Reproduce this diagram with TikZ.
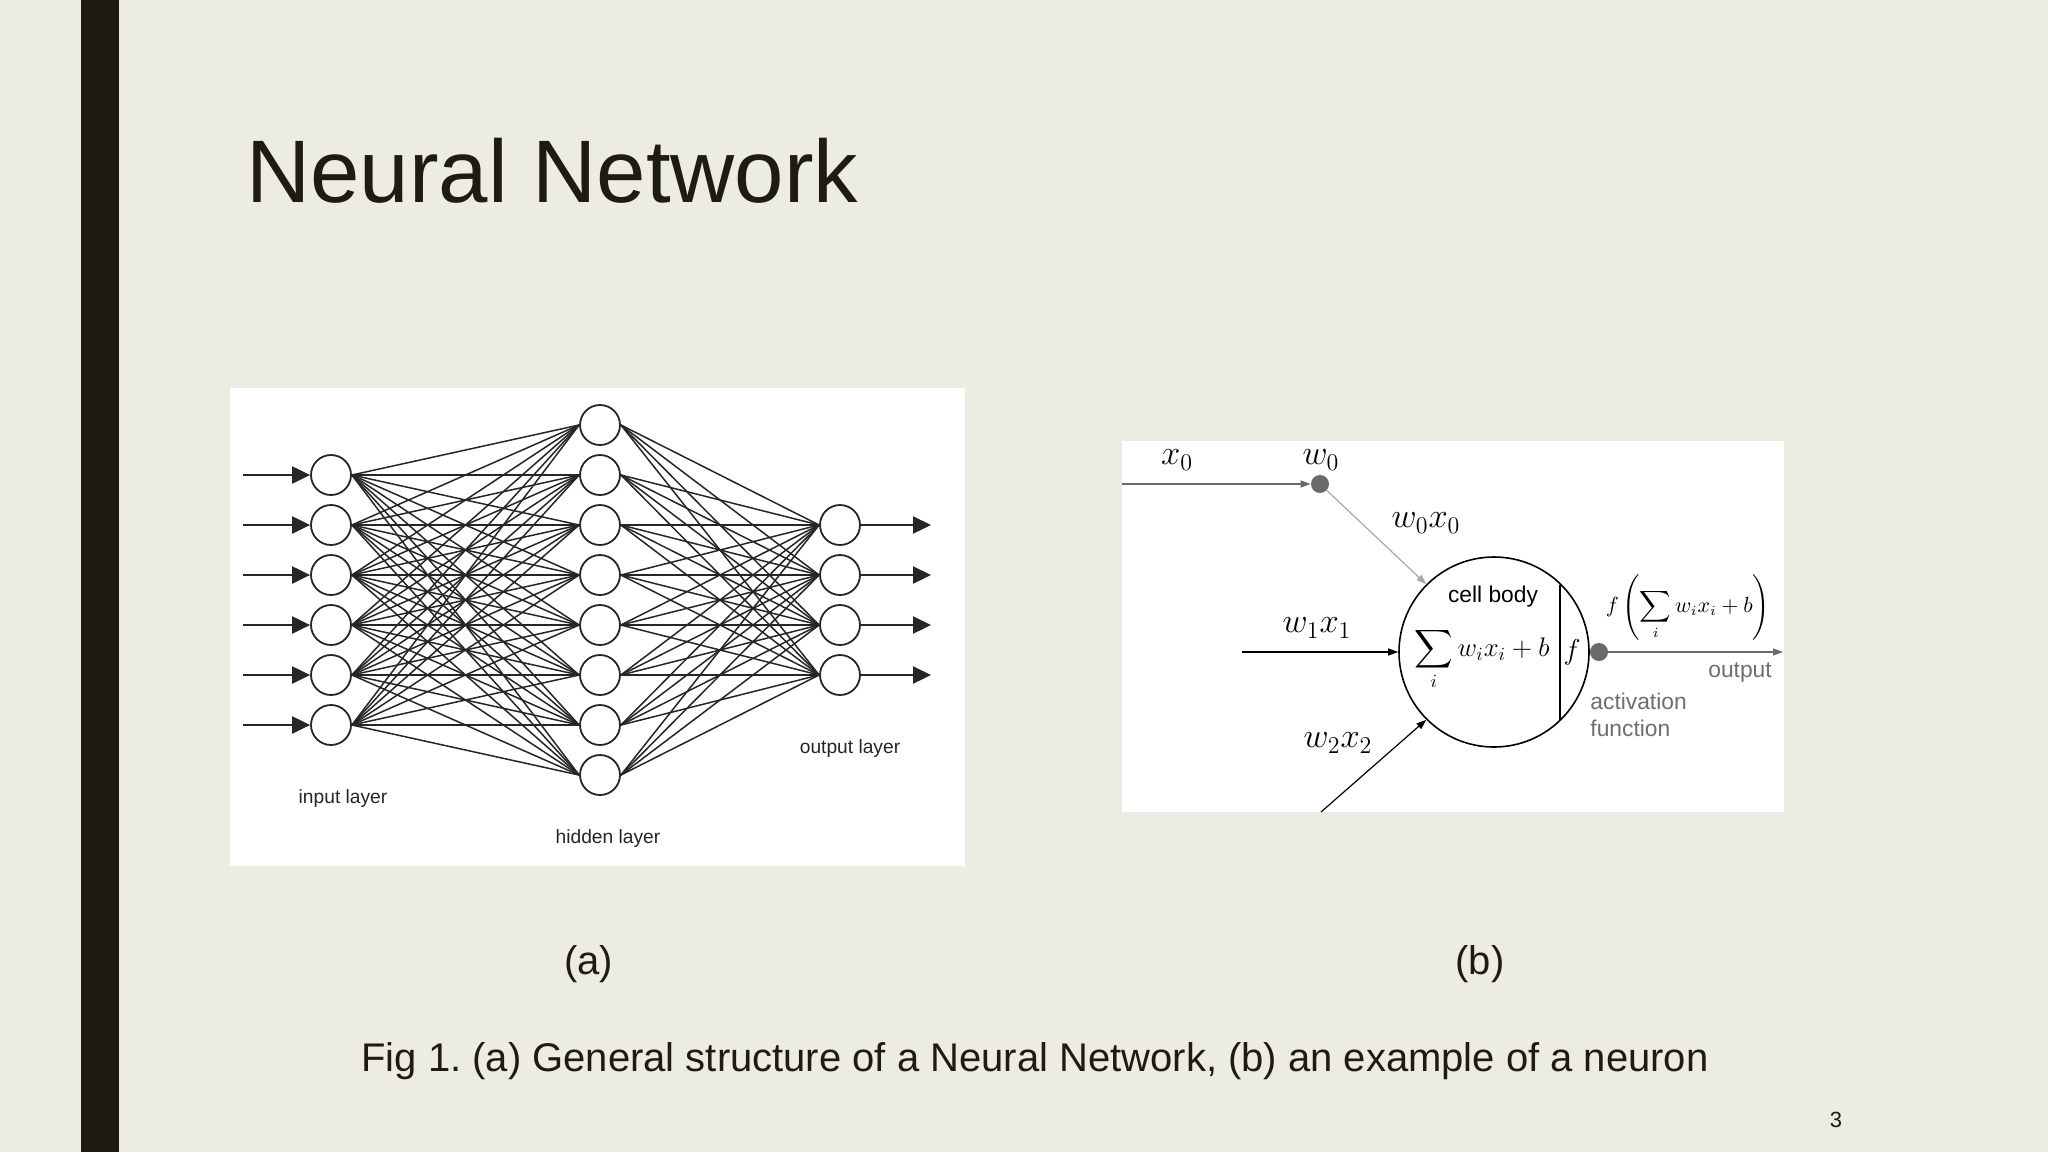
\documentclass[tikz,border=0pt]{standalone}
\usepackage{amsmath}
\usepackage{fontspec}
\setmainfont{Liberation Sans}
\usetikzlibrary{arrows.meta}
\definecolor{bg}{HTML}{EDECE3}
\definecolor{barcol}{HTML}{1E1C12}
\definecolor{ink}{HTML}{1E1C12}
\definecolor{netgray}{HTML}{262626}
\definecolor{dotgray}{HTML}{6A6A6A}
\definecolor{litegray}{HTML}{A8A8A8}
\definecolor{txtgray}{HTML}{6E6E6E}
\frenchspacing
\begin{document}
\begin{tikzpicture}[x=0.5pt,y=-0.5pt,
  neuron/.style={circle,draw=netgray,line width=0.9pt,fill=white,minimum size=20pt,inner sep=0pt},
  edge/.style={draw=netgray,line width=0.75pt},
  inarrow/.style={draw=netgray,line width=1.1pt,-{Triangle[length=9pt,width=8.5pt]}},
  netlbl/.style={font=\fontsize{9.6}{11}\selectfont,text=netgray,anchor=base,inner sep=0pt},
  sarrow/.style={line width=0.6pt,-{Triangle[length=5pt,width=3.5pt]}},
  wdot/.style={circle,fill=dotgray,minimum size=9pt,inner sep=0pt},
  mlbl/.style={font=\fontsize{16.5}{20}\selectfont,inner sep=0pt},
  nlbl/.style={font=\fontsize{11.4}{13.3}\selectfont,inner sep=0pt},
  caption/.style={font=\fontsize{20}{24}\selectfont,text=ink,anchor=base,inner sep=0pt}
]
\useasboundingbox (0,0) rectangle (2048,1152);
\fill[bg] (0,0) rectangle (2048,1152);
\fill[barcol] (81,0) rectangle (119,1152);

% title
\node[anchor=base west,font=\fontsize{44.4}{50}\selectfont,text=ink,inner sep=0pt] (title) at (246,202) {Neural Network};

% ---------- panel (a) ----------
\fill[white] (230,388) rectangle (965,866);
\foreach \i in {1,...,6} \node[neuron] (in\i) at (331,{475+50*(\i-1)}) {};
\foreach \j in {1,...,8} \node[neuron] (hid\j) at (600,{425+50*(\j-1)}) {};
\foreach \k in {1,...,4} \node[neuron] (out\k) at (840,{525+50*(\k-1)}) {};
\foreach \i in {1,...,6} \foreach \j in {1,...,8} \draw[edge] (in\i.east) -- (hid\j.west);
\foreach \j in {1,...,8} \foreach \k in {1,...,4} \draw[edge] (hid\j.east) -- (out\k.west);
\foreach \i in {1,...,6} {
  \coordinate (ia\i) at (243,{475+50*(\i-1)});
  \draw[inarrow] (ia\i) -- (in\i.west);
}
\foreach \k in {1,...,4} {
  \coordinate (oa\k) at (931,{525+50*(\k-1)});
  \draw[inarrow] (out\k.east) -- (oa\k);
}
\node[netlbl] (inlbl) at (343,803) {input layer};
\node[netlbl] (hidlbl) at (608,843) {hidden layer};
\node[netlbl] (outlbl) at (850,753) {output layer};

% ---------- panel (b) ----------
\fill[white] (1122,441) rectangle (1784,812);
\node[circle,draw=black,line width=0.8pt,minimum size=95pt,inner sep=0pt] (cell) at (1494,652) {};
\draw[line width=0.8pt] (1560,584.5) -- (1560,719.5);
\node[wdot] (w0dot) at (1320,484) {};
\node[wdot] (odot) at (1599,652) {};
\coordinate (x0s) at (1122,484);
\coordinate (w1s) at (1242,652);
\coordinate (w2s) at (1321,812);
\coordinate (oend) at (1783,652);
\draw[sarrow,draw=dotgray] (x0s) -- (w0dot.west);
\draw[sarrow,draw=litegray] (w0dot) -- (cell.135);
\draw[sarrow,draw=black] (w1s) -- (cell.west);
\draw[sarrow,draw=black] (w2s) -- (cell.225);
\draw[sarrow,draw=dotgray] (odot) -- (oend);

\node[mlbl] (lx0) at (1177,460) {$x_0$};
\node[mlbl] (lw0) at (1321,460) {$w_0$};
\node[mlbl] (lw0x0) at (1426,523) {$w_0x_0$};
\node[mlbl] (lw1x1) at (1317,628) {$w_1x_1$};
\node[mlbl] (lw2x2) at (1338,743) {$w_2x_2$};
\node[nlbl] (cb) at (1493,597) {cell body};
\node[font=\fontsize{14.4}{17}\selectfont,anchor=base,inner sep=0pt] (sumf) at (1482,656) {\scalebox{0.93}{$\displaystyle\sum_i w_ix_i+b$}};
\node[font=\fontsize{14.4}{17}\selectfont,anchor=base,inner sep=0pt] (fl) at (1572,659) {$f$};
\node[font=\fontsize{10.5}{12}\selectfont,inner sep=0pt] (fout) at (1688,607) {$\displaystyle f\left(\sum_i w_ix_i+b\right)$};
\node[nlbl,text=txtgray] (outtxt) at (1740,672) {output};
\node[nlbl,text=txtgray,align=left,anchor=west] (act) at (1590,715) {activation\\function};

% captions
\node[caption] (capa) at (588.5,974) {(a)};
\node[caption] (capb) at (1480,974) {(b)};
\node[caption] (fig) at (1035,1071) {Fig 1. (a) General structure of a Neural Network, (b) an example of a neuron};
\node[font=\fontsize{11}{13}\selectfont,text=ink,anchor=base,inner sep=0pt] (pnum) at (1836,1127) {3};
\end{tikzpicture}
\end{document}
